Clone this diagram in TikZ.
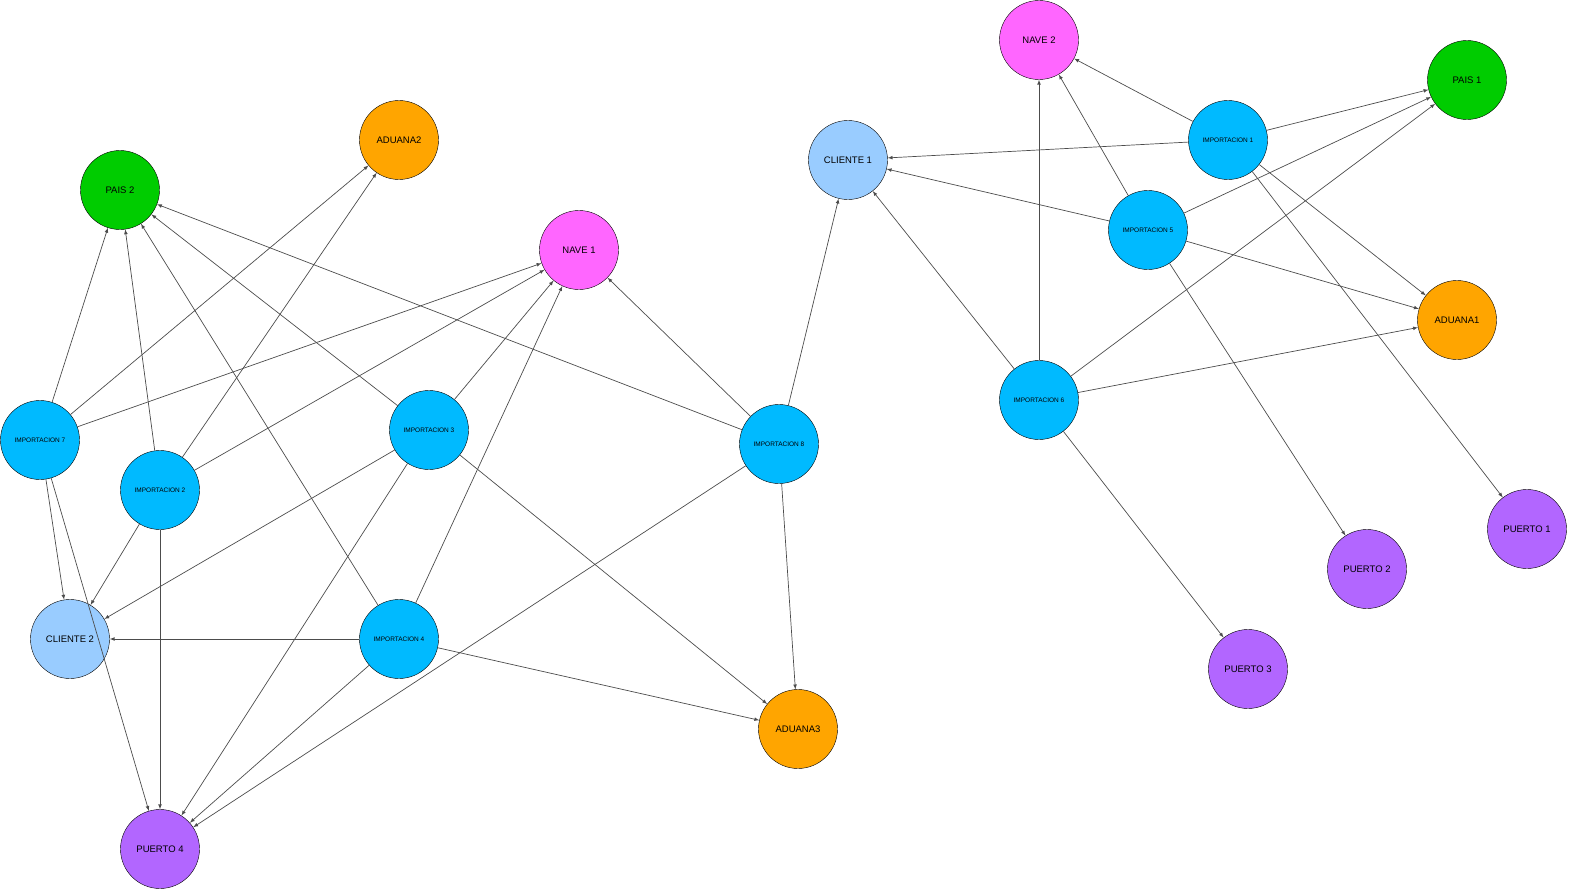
\documentclass[tikz,border=0pt]{standalone}
\usepackage{fontspec}
\setmainfont{Liberation Sans}
\begin{document}
\begin{tikzpicture}[x=1pt,y=-1pt,
 c/.style={circle,draw=black,minimum size=79pt,inner sep=0pt,font=\fontsize{9.5}{10}\selectfont},
 imp/.style={c,fill=imp,font=\fontsize{6.5}{7}\selectfont},
 e/.style={draw=black!70,-latex,line width=0.7pt}]
\definecolor{imp}{HTML}{00BAFF}
\definecolor{cli}{HTML}{99CCFF}
\definecolor{pais}{HTML}{00CC00}
\definecolor{adu}{HTML}{FFA500}
\definecolor{nave}{HTML}{FF66FF}
\definecolor{pto}{HTML}{B266FF}
\useasboundingbox (0,0) rectangle (1571,891);
\node[c,fill=nave] (n2) at (1039,40) {NAVE 2};
\node[c,fill=pais] (p1) at (1467,80) {PAIS 1};
\node[c,fill=cli] (c1) at (848,160) {CLIENTE 1};
\node[imp] (i1) at (1228,140) {IMPORTACION 1};
\node[imp] (i5) at (1148,230) {IMPORTACION 5};
\node[c,fill=adu] (a1) at (1457,320) {ADUANA1};
\node[imp] (i6) at (1039,400) {IMPORTACION 6};
\node[c,fill=pto] (pt1) at (1527,529) {PUERTO 1};
\node[c,fill=pto] (pt2) at (1367,569) {PUERTO 2};
\node[c,fill=pto] (pt3) at (1248,669) {PUERTO 3};
\node[c,fill=adu] (a2) at (399,140) {ADUANA2};
\node[c,fill=pais] (p2) at (120,190) {PAIS 2};
\node[c,fill=nave] (n1) at (579,250) {NAVE 1};
\node[imp] (i7) at (40,440) {IMPORTACION 7};
\node[imp] (i2) at (160,490) {IMPORTACION 2};
\node[imp] (i3) at (429,430) {IMPORTACION 3};
\node[imp] (i8) at (779,444) {IMPORTACION 8};
\node[c,fill=cli] (c2) at (70,639) {CLIENTE 2};
\node[imp] (i4) at (399,639) {IMPORTACION 4};
\node[c,fill=adu] (a3) at (798,729) {ADUANA3};
\node[c,fill=pto] (pt4) at (160,849) {PUERTO 4};
\foreach \s/\t in {i1/n2,i1/p1,i1/c1,i1/a1,i1/pt1,
 i5/n2,i5/c1,i5/p1,i5/a1,i5/pt2,
 i6/n2,i6/c1,i6/p1,i6/a1,i6/pt3,
 i8/c1,i8/n1,i8/p2,i8/a3,i8/pt4,
 i7/p2,i7/n1,i7/a2,i7/c2,i7/pt4,
 i2/p2,i2/a2,i2/n1,i2/c2,i2/pt4,
 i3/p2,i3/n1,i3/c2,i3/pt4,i3/a3,
 i4/p2,i4/n1,i4/c2,i4/a3,i4/pt4}
 \draw[e] (\s) -- (\t);
\end{tikzpicture}
\end{document}
